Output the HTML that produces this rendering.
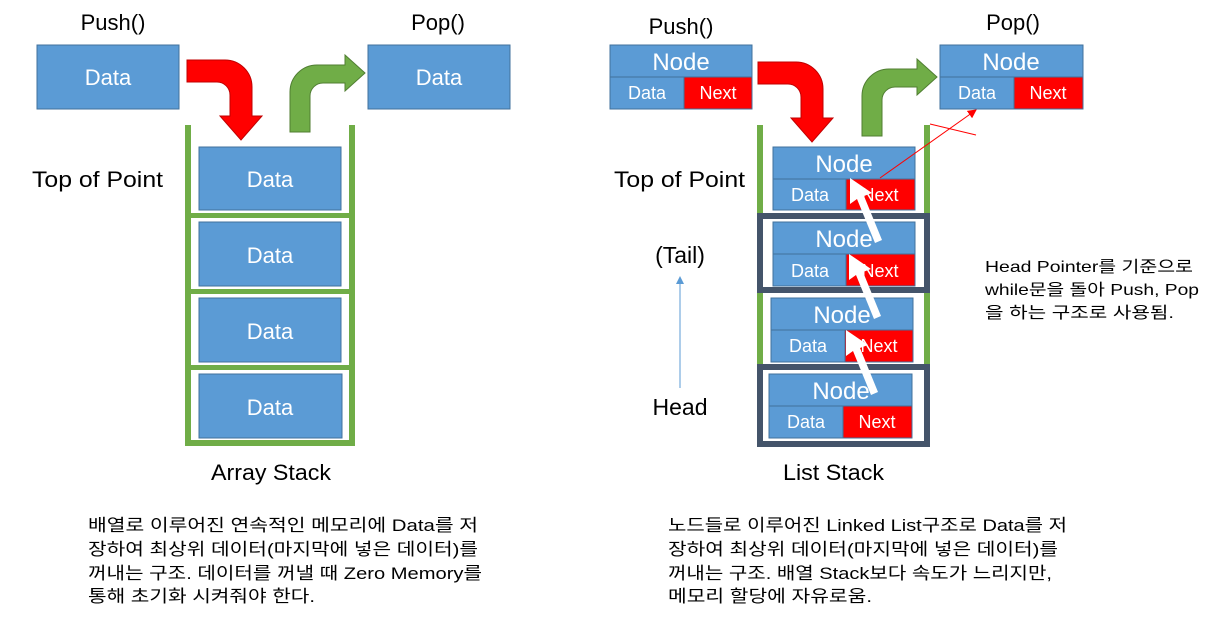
<!DOCTYPE html>
<html><head><meta charset="utf-8"><style>
html,body{margin:0;padding:0;background:#fff;}
svg{display:block;}
text{font-family:"Liberation Sans","Noto Sans CJK KR",sans-serif;}
</style></head><body>
<svg width="1223" height="643" viewBox="0 0 1223 643" xmlns="http://www.w3.org/2000/svg">
<defs>
<g id="redArrow">
<path d="M0,0 H38 A27,27 0 0 1 65,27 V56 H75 L54,80 L33,56 H43 V35 A13,13 0 0 0 30,22 H0 Z" fill="#ff0000" stroke="#c00000" stroke-width="1"/>
</g>
<g id="greenArrow">
<path d="M0,77 V37 A27,27 0 0 1 27,10 H55 V0 L75,18 L55,36 V28 H33 A13,13 0 0 0 20,41 V77 Z" fill="#70ad47" stroke="#507e32" stroke-width="1"/>
</g>
<marker id="bl" markerWidth="8" markerHeight="8" refX="4" refY="4" orient="auto" markerUnits="userSpaceOnUse"><path d="M0,0 L8,4 L0,8 Z" fill="#5b9bd5"/></marker>
<marker id="rd" markerWidth="9" markerHeight="9" refX="8" refY="4.5" orient="auto" markerUnits="userSpaceOnUse"><path d="M0,0 L9,4.5 L0,9 Z" fill="#ff0000"/></marker>
</defs>

<!-- LEFT: Array stack -->
<text x="113" y="30" font-size="22" text-anchor="middle">Push()</text>
<text x="438" y="30" font-size="22" text-anchor="middle">Pop()</text>
<rect x="37" y="45" width="142" height="64" fill="#5b9bd5" stroke="#41719c"/>
<text x="108" y="85" font-size="22" fill="#fff" text-anchor="middle">Data</text>
<rect x="368" y="45" width="142" height="64" fill="#5b9bd5" stroke="#41719c"/>
<text x="439" y="85" font-size="22" fill="#fff" text-anchor="middle">Data</text>
<use href="#redArrow" x="187" y="60"/>
<use href="#greenArrow" x="290" y="55"/>

<g fill="#70ad47">
<rect x="185" y="125" width="6" height="320"/>
<rect x="349" y="125" width="6" height="320"/>
<rect x="185" y="440" width="170" height="6"/>
<rect x="185" y="213" width="170" height="5"/>
<rect x="185" y="289" width="170" height="5"/>
<rect x="185" y="365" width="170" height="5"/>
</g>
<g fill="#5b9bd5" stroke="#41719c">
<rect x="199" y="147" width="142" height="63"/>
<rect x="199" y="222" width="142" height="64"/>
<rect x="199" y="298" width="142" height="64"/>
<rect x="199" y="374" width="143" height="64"/>
</g>
<g font-size="22" fill="#fff" text-anchor="middle">
<text x="270" y="187">Data</text>
<text x="270" y="263">Data</text>
<text x="270" y="339">Data</text>
<text x="270" y="415">Data</text>
</g>
<text x="32" y="187" font-size="22" textLength="131" lengthAdjust="spacingAndGlyphs">Top of Point</text>
<text x="211" y="480" font-size="22" textLength="120" lengthAdjust="spacingAndGlyphs">Array Stack</text>

<!-- RIGHT: List stack -->
<text x="681" y="34" font-size="22" text-anchor="middle">Push()</text>
<text x="1013" y="30" font-size="22" text-anchor="middle">Pop()</text>

<g>
<rect x="610" y="45" width="142" height="32" fill="#5b9bd5" stroke="#41719c"/>
<rect x="610" y="77" width="74" height="32" fill="#5b9bd5" stroke="#41719c"/>
<rect x="684" y="77" width="68" height="32" fill="#ff0000" stroke="#41719c"/>
<text x="681" y="70" font-size="24" fill="#fff" text-anchor="middle">Node</text>
<text x="647" y="99" font-size="18" fill="#fff" text-anchor="middle">Data</text>
<text x="718" y="99" font-size="18" fill="#fff" text-anchor="middle">Next</text>
</g>
<g>
<rect x="940" y="45" width="143" height="32" fill="#5b9bd5" stroke="#41719c"/>
<rect x="940" y="77" width="74" height="32" fill="#5b9bd5" stroke="#41719c"/>
<rect x="1014" y="77" width="69" height="32" fill="#ff0000" stroke="#41719c"/>
<text x="1011" y="70" font-size="24" fill="#fff" text-anchor="middle">Node</text>
<text x="977" y="99" font-size="18" fill="#fff" text-anchor="middle">Data</text>
<text x="1048" y="99" font-size="18" fill="#fff" text-anchor="middle">Next</text>
</g>
<use href="#redArrow" x="758" y="62"/>
<use href="#greenArrow" x="862" y="59"/>

<g fill="#70ad47">
<rect x="757" y="125" width="6" height="320"/>
<rect x="924" y="125" width="6" height="320"/>
</g>
<g fill="none" stroke="#44546a" stroke-width="6">
<rect x="760" y="216" width="167" height="74"/>
<rect x="760" y="367" width="167" height="77"/>
</g>

<g>
<rect x="773" y="147" width="142" height="32" fill="#5b9bd5" stroke="#41719c"/>
<rect x="773" y="179" width="73" height="31" fill="#5b9bd5" stroke="#41719c"/>
<rect x="846" y="179" width="69" height="31" fill="#ff0000" stroke="#41719c"/>
<text x="844" y="172" font-size="24" fill="#fff" text-anchor="middle">Node</text>
<text x="810" y="201" font-size="18" fill="#fff" text-anchor="middle">Data</text>
<text x="880" y="201" font-size="18" fill="#fff" text-anchor="middle">Next</text>

<rect x="773" y="222" width="142" height="32" fill="#5b9bd5" stroke="#41719c"/>
<rect x="773" y="254" width="73" height="32" fill="#5b9bd5" stroke="#41719c"/>
<rect x="846" y="254" width="69" height="32" fill="#ff0000" stroke="#41719c"/>
<text x="844" y="247" font-size="24" fill="#fff" text-anchor="middle">Node</text>
<text x="810" y="277" font-size="18" fill="#fff" text-anchor="middle">Data</text>
<text x="880" y="277" font-size="18" fill="#fff" text-anchor="middle">Next</text>

<rect x="771" y="298" width="142" height="32" fill="#5b9bd5" stroke="#41719c"/>
<rect x="771" y="330" width="74" height="32" fill="#5b9bd5" stroke="#41719c"/>
<rect x="845" y="330" width="68" height="32" fill="#ff0000" stroke="#41719c"/>
<text x="842" y="323" font-size="24" fill="#fff" text-anchor="middle">Node</text>
<text x="808" y="352" font-size="18" fill="#fff" text-anchor="middle">Data</text>
<text x="879" y="352" font-size="18" fill="#fff" text-anchor="middle">Next</text>

<rect x="769" y="374" width="143" height="32" fill="#5b9bd5" stroke="#41719c"/>
<rect x="769" y="406" width="74" height="32" fill="#5b9bd5" stroke="#41719c"/>
<rect x="843" y="406" width="69" height="32" fill="#ff0000" stroke="#41719c"/>
<text x="841" y="399" font-size="24" fill="#fff" text-anchor="middle">Node</text>
<text x="806" y="428" font-size="18" fill="#fff" text-anchor="middle">Data</text>
<text x="877" y="428" font-size="18" fill="#fff" text-anchor="middle">Next</text>
</g>

<g fill="#fff">
<path d="M878,392 L860,348 L868,345 L846,330 L846,356 L853,351 L871,395 Z"/>
<path d="M881,316 L863,272 L871,269 L849,254 L849,280 L856,275 L874,319 Z"/>
<path d="M882,240 L864,196 L872,193 L850,178 L850,204 L857,199 L875,243 Z"/>
</g>

<line x1="880" y1="178" x2="976" y2="110" stroke="#ff0000" stroke-width="1" marker-end="url(#rd)"/>
<line x1="930" y1="124" x2="976" y2="135" stroke="#ff0000" stroke-width="1"/>

<text x="614" y="187" font-size="22" textLength="131" lengthAdjust="spacingAndGlyphs">Top of Point</text>
<text x="680" y="263" font-size="23" text-anchor="middle">(Tail)</text>
<line x1="680" y1="388" x2="680" y2="280" stroke="#5b9bd5" stroke-width="1" marker-end="url(#bl)"/>
<text x="680" y="415" font-size="23" text-anchor="middle">Head</text>
<text x="783" y="480" font-size="22" textLength="101" lengthAdjust="spacingAndGlyphs">List Stack</text>

<g font-size="16">
<text x="985" y="272" textLength="208" lengthAdjust="spacingAndGlyphs">Head Pointer를 기준으로</text>
<text x="985" y="295" textLength="214" lengthAdjust="spacingAndGlyphs">while문을 돌아 Push, Pop</text>
<text x="985" y="318" textLength="189" lengthAdjust="spacingAndGlyphs">을 하는 구조로 사용됨.</text>
</g>

<g font-size="17">
<text x="88" y="531" textLength="390" lengthAdjust="spacingAndGlyphs">배열로 이루어진 연속적인 메모리에 Data를 저</text>
<text x="88" y="555" textLength="390" lengthAdjust="spacingAndGlyphs">장하여 최상위 데이터(마지막에 넣은 데이터)를</text>
<text x="88" y="579" textLength="394" lengthAdjust="spacingAndGlyphs">꺼내는 구조. 데이터를 꺼낼 때 Zero Memory를</text>
<text x="88" y="602" textLength="227" lengthAdjust="spacingAndGlyphs">통해 초기화 시켜줘야 한다.</text>
<text x="668" y="531" textLength="399" lengthAdjust="spacingAndGlyphs">노드들로 이루어진 Linked List구조로 Data를 저</text>
<text x="668" y="555" textLength="390" lengthAdjust="spacingAndGlyphs">장하여 최상위 데이터(마지막에 넣은 데이터)를</text>
<text x="668" y="579" textLength="384" lengthAdjust="spacingAndGlyphs">꺼내는 구조. 배열 Stack보다 속도가 느리지만,</text>
<text x="668" y="602" textLength="204" lengthAdjust="spacingAndGlyphs">메모리 할당에 자유로움.</text>
</g>
</svg>
</body></html>
